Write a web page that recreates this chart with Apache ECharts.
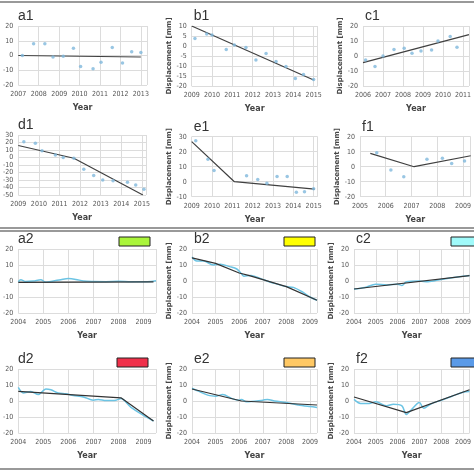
<!DOCTYPE html>
<html><head><meta charset="utf-8">
<script src="https://cdn.jsdelivr.net/npm/echarts@6/dist/echarts.min.js"></script>
<style>html,body{margin:0;padding:0;background:#fff}#c{width:474px;height:474px}</style>
</head><body><div id="c"></div>
<script>
// ---- data ----
const panelNames = ['a1','b1','c1','d1','e1','f1','a2','b2','c2','d2','e2','f2'];
const a1Points = [[2007.2,0],[2007.75,8],[2008.3,8],[2008.7,-1],[2009.2,-0.5],[2009.7,5],[2010.05,-7.5],[2010.66,-9],[2011.05,-4.5],[2011.6,5.5],[2012.1,-5],[2012.55,2.5],[2013.0,2]];
const a1Trend = [[2007,0],[2013,-1]];
const b1Points = [[2009.16,3.8],[2009.74,6],[2010.0,5.5],[2010.7,-1.7],[2011.1,0.5],[2011.67,-0.7],[2012.16,-7],[2012.66,-3.7],[2013.15,-7.8],[2013.64,-10.3],[2014.1,-16.2],[2014.5,-14.2],[2015.0,-16.7]];
const b1Trend = [[2009,10],[2015,-17]];
const c1Points = [[2006.13,-2.7],[2006.6,-7],[2007.0,0],[2007.55,4.4],[2008.06,5.1],[2008.45,1.8],[2008.9,3.3],[2009.43,4],[2009.75,10],[2010.36,13],[2010.7,5.8]];
const c1Trend = [[2006,-4.4],[2011.3,14.2]];
const d1Points = [[2009.27,21],[2009.83,19],[2010.15,9],[2010.8,3.3],[2011.18,0],[2011.7,-1],[2012.18,-15.8],[2012.66,-24],[2013.1,-30],[2013.6,-31],[2014.3,-33],[2014.7,-36.7],[2015.1,-42.4]];
const d1Trend = [[2009,16],[2011.7,-1],[2015.05,-50]];
const e1Points = [[2009.2,27.3],[2009.8,15],[2010.1,7.5],[2011.7,4],[2012.25,1.5],[2012.7,-1],[2013.2,3.5],[2013.7,3.5],[2014.15,-7],[2014.55,-6.7],[2015.0,-4.7]];
const e1Trend = [[2009,26.7],[2011.1,0],[2015.05,-4.9]];
const f1Points = [[2005.65,9.3],[2006.2,-2.2],[2006.7,-6.7],[2007.6,4.9],[2008.2,5.6],[2008.56,2.2],[2009.06,3.8]];
const f1Trend = [[2005.4,8.9],[2007.1,0],[2009.3,7.3]];
const a2Series = [[2004,-0.5],[2004.1,0.8],[2004.3,-0.3],[2004.6,0],[2004.9,0.8],[2005.1,-0.8],[2005.4,0],[2005.7,0.8],[2006,1.5],[2006.3,1],[2006.6,0],[2007,-0.3],[2007.5,-0.4],[2008,-0.2],[2008.5,-0.5],[2009,-0.5],[2009.3,-0.3],[2009.5,0.2]];
const a2Trend = [[2004,-0.8],[2009.4,-0.6]];
const b2Series = [[2004,15],[2004.2,12.5],[2004.5,12.5],[2004.9,10],[2005.2,10.5],[2005.6,9],[2005.9,7.5],[2006.1,4.5],[2006.2,3],[2006.5,3.5],[2007,1],[2007.5,-1.5],[2008,-3.5],[2008.3,-4],[2008.7,-7],[2009,-10],[2009.3,-12]];
const b2Trend = [[2004,14.5],[2005,11],[2006,5],[2006.4,3.5],[2008,-3.5],[2009.3,-12]];
const c2Series = [[2004,-5],[2004.5,-4],[2005,-2],[2005.5,-2.5],[2006,-2],[2006.2,-2.8],[2006.4,-0.5],[2007,0],[2007.4,-0.5],[2008,1],[2008.5,2],[2009,3],[2009.3,3.5]];
const c2Trend = [[2004,-5],[2009.3,3.3]];
const d2Series = [[2004,8.5],[2004.2,5],[2004.5,6],[2004.8,4],[2005.1,7.5],[2005.3,7],[2005.6,5],[2005.9,4.5],[2006.2,3.5],[2006.6,2.5],[2007,0.5],[2007.2,1],[2007.5,0.3],[2007.9,0.5],[2008.1,1.5],[2008.5,-4],[2009,-9],[2009.4,-12.5]];
const d2Trend = [[2004,6],[2008.1,2],[2009.4,-12.5]];
const e2Series = [[2004,8],[2004.3,6],[2004.7,3.5],[2005,3],[2005.3,4],[2005.7,1.5],[2006,0.5],[2006.1,1],[2006.3,-0.5],[2007,0.5],[2007.2,1],[2007.5,0],[2008,-1],[2008.5,-2.5],[2009,-3.5],[2009.3,-4]];
const e2Trend = [[2004,7.5],[2006.1,0],[2009.3,-2.5]];
const f2Series = [[2004,1],[2004.3,-1.5],[2004.7,-1.5],[2005,-0.5],[2005.5,-3],[2005.8,-2],[2006.2,-3],[2006.4,-8.5],[2006.6,-6],[2007,-1],[2007.2,-4.5],[2007.5,-2],[2008,0.5],[2008.5,3],[2009,5.5],[2009.3,6]];
const f2Trend = [[2004,2.5],[2006.4,-7.3],[2009.3,7]];

const pointsList = [a1Points,b1Points,c1Points,d1Points,e1Points,f1Points];
const trends1 = [a1Trend,b1Trend,c1Trend,d1Trend,e1Trend,f1Trend];
const series2 = [a2Series,b2Series,c2Series,d2Series,e2Series,f2Series];
const trends2 = [a2Trend,b2Trend,c2Trend,d2Trend,e2Trend,f2Trend];

// ---- layout ----
const L = [
 {l:16,t:26,w:131,h:59,x0:2007,x1:2013.3,y0:-20,y1:20,yi:10,yn:false},
 {l:191.7,t:26,w:126,h:60,x0:2009,x1:2015.2,y0:-20,y1:10,yi:5,yn:true},
 {l:363,t:26,w:123,h:60,x0:2006,x1:2011.3,y0:-20,y1:20,yi:10,yn:true},
 {l:16,t:135,w:130,h:60,x0:2009,x1:2015.2,y0:-50,y1:30,yi:10,yn:false},
 {l:191.7,t:136.7,w:126,h:60,x0:2009,x1:2015.2,y0:-10,y1:30,yi:10,yn:true},
 {l:360,t:136.7,w:115,h:60,x0:2005,x1:2009.3,y0:-20,y1:20,yi:10,yn:true},
 {l:16,t:249,w:140,h:64,x0:2004,x1:2009.5,y0:-20,y1:20,yi:10,yn:false},
 {l:192,t:249,w:125,h:64,x0:2004,x1:2009.3,y0:-20,y1:20,yi:10,yn:true},
 {l:354,t:249,w:127,h:64,x0:2004,x1:2009.3,y0:-20,y1:20,yi:10,yn:true},
 {l:16,t:369,w:140,h:64,x0:2004,x1:2009.5,y0:-20,y1:20,yi:10,yn:false},
 {l:192,t:369,w:125,h:64,x0:2004,x1:2009.3,y0:-20,y1:20,yi:10,yn:true},
 {l:354,t:369,w:127,h:64,x0:2004,x1:2009.3,y0:-20,y1:20,yi:10,yn:true}
];
const boxColors = ['#aaf53a','#ffff00','#a0fafa','#f0304a','#ffc864','#5a9ae8'];
const boxX = [119,284,451,117,284,451];
const boxY = [237,237,237,358,358,358];

const grid=[],xAxis=[],yAxis=[],series=[],graphic=[];
const lab={fontSize:7,color:'#555',fontFamily:'DejaVu Sans Condensed'};
L.forEach((p,i)=>{
  grid.push({left:p.l,top:p.t,width:p.w,height:p.h});
  xAxis.push({type:'value',gridIndex:i,min:p.x0,max:p.x1,interval:1,
    axisLine:{show:false},axisTick:{show:false},
    axisLabel:Object.assign({},lab,{margin:6,hideOverlap:false,showMinLabel:true,formatter:v=>Number.isInteger(v)?String(v):''}),
    splitLine:{lineStyle:{color:'#dcdcdc'}},
    name:'Year',nameLocation:'middle',nameGap:19,nameTextStyle:{fontSize:8,fontWeight:'bold',color:'#444',fontFamily:'DejaVu Sans'}});
  yAxis.push({type:'value',gridIndex:i,min:p.y0,max:p.y1,interval:p.yi,
    axisLine:{show:false},axisTick:{show:false},
    axisLabel:Object.assign({},lab,{margin:5,hideOverlap:false}),
    splitLine:{lineStyle:{color:'#dcdcdc'}},
    name:p.yn?'Displacement [mm]':'',nameLocation:'middle',nameGap:16,
    nameTextStyle:{fontSize:7,fontWeight:'bold',color:'#444',fontFamily:'DejaVu Sans'}});
  graphic.push({type:'text',left:p.l+2,top:p.t-17,style:{text:panelNames[i],fontSize:14,fill:'#333',fontFamily:'Liberation Sans'}});
});
for(let i=0;i<6;i++){
  series.push({type:'scatter',xAxisIndex:i,yAxisIndex:i,data:pointsList[i],symbolSize:3.5,itemStyle:{color:'#7fb8dc'},z:3});
  series.push({type:'line',xAxisIndex:i,yAxisIndex:i,data:trends1[i],symbol:'none',lineStyle:{color:'#404040',width:1.2},z:2});
  series.push({type:'line',xAxisIndex:i+6,yAxisIndex:i+6,data:series2[i],symbol:'none',smooth:0.3,lineStyle:{color:'#6cc4e4',width:1.5},z:2});
  series.push({type:'line',xAxisIndex:i+6,yAxisIndex:i+6,data:trends2[i],symbol:'none',lineStyle:{color:'#333',width:1.2},z:3});
  graphic.push({type:'rect',shape:{x:boxX[i],y:boxY[i],width:31,height:9},style:{fill:boxColors[i],stroke:'#222',lineWidth:1}});
}
graphic.push({type:'rect',shape:{x:-2,y:2,width:478,height:226},style:{fill:'none',stroke:'#999',lineWidth:2}});
graphic.push({type:'rect',shape:{x:-2,y:231,width:478,height:238},style:{fill:'none',stroke:'#999',lineWidth:2}});

const chart=echarts.init(document.getElementById('c'));
chart.setOption({animation:false,grid,xAxis,yAxis,series,graphic});
</script></body></html>
